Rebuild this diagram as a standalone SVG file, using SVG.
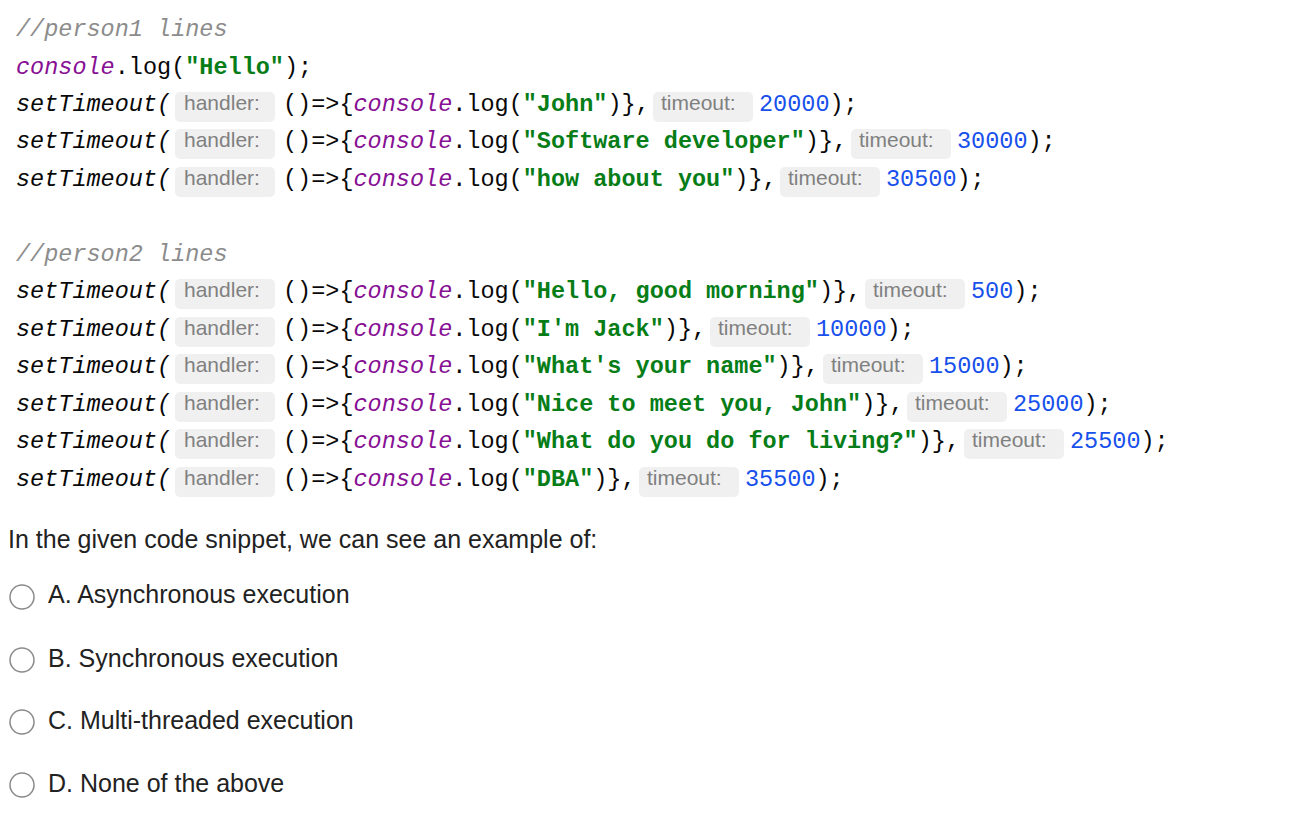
<svg xmlns="http://www.w3.org/2000/svg" width="1306" height="826" viewBox="0 0 1306 826">
<style>
.c{font-family:"Liberation Mono",monospace;font-size:23.5px;fill:#080808}
.cm{fill:#8c8c8c;font-style:italic}
.it{font-style:italic}
.p{fill:#871094;font-style:italic}
.s{fill:#067d17;font-weight:bold}
.n{fill:#1750eb}
.chip{fill:#f0f0f0}
.ct{font-family:"Liberation Sans",Arial,sans-serif;font-size:21px;fill:#808080}
.q{font-family:"Liberation Sans",Arial,sans-serif;font-size:25px;fill:#222}
.r{fill:#fff;stroke:#8a8a8a;stroke-width:1.5}
</style>
<defs>
<rect id="chip" class="chip" width="100" height="30" rx="5"/>
</defs>
<rect width="1306" height="826" fill="#fff"/>
<g id="code">
<text class="c cm" x="16" y="36">//person1 lines</text>
<text class="c" x="16" y="74"><tspan class="p">console</tspan>.log(<tspan class="s">"Hello"</tspan>);</text>

<g id="l3"><text class="c it" x="16" y="111">setTimeout(</text><use href="#chip" x="175" y="92"/><text class="ct" x="184" y="110">handler:</text>
<text class="c" x="283" y="111">()=&gt;{<tspan class="p">console</tspan>.log(<tspan class="s">"John"</tspan>)},</text><use href="#chip" x="653" y="92"/><text class="ct" x="661" y="110">timeout:</text><text class="c n" x="759" y="111">20000<tspan fill="#080808">);</tspan></text></g>

<g id="l4"><text class="c it" x="16" y="148">setTimeout(</text><use href="#chip" x="175" y="129"/><text class="ct" x="184" y="147">handler:</text>
<text class="c" x="283" y="148">()=&gt;{<tspan class="p">console</tspan>.log(<tspan class="s">"Software developer"</tspan>)},</text><use href="#chip" x="851" y="129"/><text class="ct" x="859" y="147">timeout:</text><text class="c n" x="957" y="148">30000<tspan fill="#080808">);</tspan></text></g>

<g id="l5"><text class="c it" x="16" y="186">setTimeout(</text><use href="#chip" x="175" y="167"/><text class="ct" x="184" y="185">handler:</text>
<text class="c" x="283" y="186">()=&gt;{<tspan class="p">console</tspan>.log(<tspan class="s">"how about you"</tspan>)},</text><use href="#chip" x="780" y="167"/><text class="ct" x="788" y="185">timeout:</text><text class="c n" x="886" y="186">30500<tspan fill="#080808">);</tspan></text></g>

<text class="c cm" x="16" y="261">//person2 lines</text>

<g id="m1"><text class="c it" x="16" y="298">setTimeout(</text><use href="#chip" x="175" y="279"/><text class="ct" x="184" y="297">handler:</text>
<text class="c" x="283" y="298">()=&gt;{<tspan class="p">console</tspan>.log(<tspan class="s">"Hello, good morning"</tspan>)},</text><use href="#chip" x="865" y="279"/><text class="ct" x="873" y="297">timeout:</text><text class="c n" x="971" y="298">500<tspan fill="#080808">);</tspan></text></g>

<g id="m2"><text class="c it" x="16" y="336">setTimeout(</text><use href="#chip" x="175" y="317"/><text class="ct" x="184" y="335">handler:</text>
<text class="c" x="283" y="336">()=&gt;{<tspan class="p">console</tspan>.log(<tspan class="s">"I'm Jack"</tspan>)},</text><use href="#chip" x="710" y="317"/><text class="ct" x="718" y="335">timeout:</text><text class="c n" x="816" y="336">10000<tspan fill="#080808">);</tspan></text></g>

<g id="m3"><text class="c it" x="16" y="373">setTimeout(</text><use href="#chip" x="175" y="354"/><text class="ct" x="184" y="372">handler:</text>
<text class="c" x="283" y="373">()=&gt;{<tspan class="p">console</tspan>.log(<tspan class="s">"What's your name"</tspan>)},</text><use href="#chip" x="823" y="354"/><text class="ct" x="831" y="372">timeout:</text><text class="c n" x="929" y="373">15000<tspan fill="#080808">);</tspan></text></g>

<g id="m4"><text class="c it" x="16" y="411">setTimeout(</text><use href="#chip" x="175" y="392"/><text class="ct" x="184" y="410">handler:</text>
<text class="c" x="283" y="411">()=&gt;{<tspan class="p">console</tspan>.log(<tspan class="s">"Nice to meet you, John"</tspan>)},</text><use href="#chip" x="907" y="392"/><text class="ct" x="915" y="410">timeout:</text><text class="c n" x="1013" y="411">25000<tspan fill="#080808">);</tspan></text></g>

<g id="m5"><text class="c it" x="16" y="448">setTimeout(</text><use href="#chip" x="175" y="429"/><text class="ct" x="184" y="447">handler:</text>
<text class="c" x="283" y="448">()=&gt;{<tspan class="p">console</tspan>.log(<tspan class="s">"What do you do for living?"</tspan>)},</text><use href="#chip" x="964" y="429"/><text class="ct" x="972" y="447">timeout:</text><text class="c n" x="1070" y="448">25500<tspan fill="#080808">);</tspan></text></g>

<g id="m6"><text class="c it" x="16" y="486">setTimeout(</text><use href="#chip" x="175" y="467"/><text class="ct" x="184" y="485">handler:</text>
<text class="c" x="283" y="486">()=&gt;{<tspan class="p">console</tspan>.log(<tspan class="s">"DBA"</tspan>)},</text><use href="#chip" x="639" y="467"/><text class="ct" x="647" y="485">timeout:</text><text class="c n" x="745" y="486">35500<tspan fill="#080808">);</tspan></text></g>
</g>
<g id="question">
<text class="q" x="8" y="548">In the given code snippet, we can see an example of:</text>
<g id="optA"><circle class="r" cx="22" cy="597" r="12"/><text class="q" x="48" y="603">A. Asynchronous execution</text></g>
<g id="optB"><circle class="r" cx="22" cy="660" r="12"/><text class="q" x="48" y="667">B. Synchronous execution</text></g>
<g id="optC"><circle class="r" cx="22" cy="722" r="12"/><text class="q" x="48" y="729">C. Multi-threaded execution</text></g>
<g id="optD"><circle class="r" cx="22" cy="785" r="12"/><text class="q" x="48" y="792">D. None of the above</text></g>
</g>
</svg>
